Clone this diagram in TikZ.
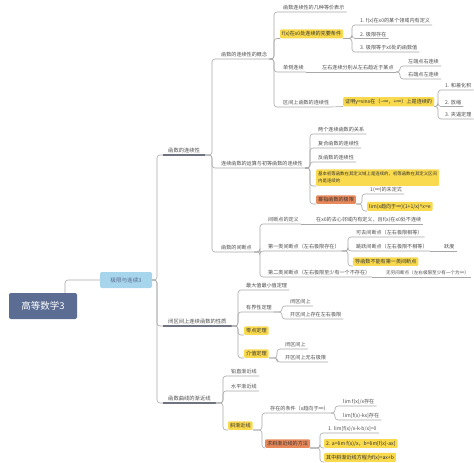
\documentclass[tikz,border=0pt]{standalone}
\usepackage{fontspec}
\setmainfont{Noto Sans CJK SC}
\begin{document}
\begin{tikzpicture}[x=1pt,y=-1pt,
  t/.style={anchor=south west,inner xsep=2pt,inner ysep=1.6pt,text=txtc,font=\fontsize{5.1}{6}\selectfont},
  tone/.style={anchor=south west,inner xsep=5pt,inner ysep=1.8pt,text=txtc,font=\fontsize{5.3}{6}\selectfont},
  yb/.style={anchor=south west,fill=yelc,rounded corners=1pt,inner xsep=2pt,inner ysep=1.8pt,text=boxtc,font=\fontsize{5.1}{6}\selectfont},
  ob/.style={anchor=south west,fill=orgc,rounded corners=1pt,inner xsep=2pt,inner ysep=1.8pt,text=boxtc,font=\fontsize{5.1}{6}\selectfont},
  conn/.style={draw=linec,line width=0.6pt,rounded corners=3pt},
  thickline/.style={draw=thickc,line width=1.8pt},
]
\definecolor{txtc}{HTML}{4D4D4D}
\definecolor{boxtc}{HTML}{333333}
\definecolor{yelc}{HTML}{F9D94E}
\definecolor{orgc}{HTML}{E8895B}
\definecolor{rootc}{HTML}{5C6D93}
\definecolor{bluec}{HTML}{A7D5EC}
\definecolor{linec}{HTML}{A8A8A8}
\definecolor{thickc}{HTML}{6F7480}
\fill[white] (0,0) rectangle (474,463);
\useasboundingbox (0,0) rectangle (474,463);

% root and level 0
\node[fill=rootc,rounded corners=2pt,minimum width=68pt,minimum height=26pt,text=white,font=\fontsize{9.5}{11}\selectfont] (R) at (43,306) {高等数学3};
\node[fill=bluec,rounded corners=2pt,minimum width=52pt,minimum height=16pt,text=rootc,font=\fontsize{5.6}{6}\selectfont] (L) at (126,280) {极限与连续3};
\coordinate (rx) at (65,0);
\coordinate (bS) at (157,0);

% level 1
\node[tone] (A) at (163,155) {函数的连续性};
\node[tone] (B) at (163,326) {闭区间上连续函数的性质};
\node[tone] (C) at (163,403) {函数曲线的渐近线};

% level 2 under A
\coordinate (bA) at (212,0);
\node[t] (A1) at (219,59) {函数的连续性的概念};
\node[t] (A2) at (219,168) {连续函数的运算与初等函数的连续性};
\node[t] (A3) at (219,252) {函数的间断点};

% A1 children
\coordinate (bA1) at (274,0);
\node[t] (A1a) at (281,12) {函数连续性的几种等价表示};
\node[yb] (A1b) at (280,38.5) {f(x)在x0处连续的充要条件};
\node[t] (A1c) at (281,72) {单侧连续};
\node[t] (A1d) at (281,107) {区间上函数的连续性};

\coordinate (bA1b) at (352,0);
\node[t] (A1b1) at (358,25) {1. f(x)在x0的某个领域内有定义};
\node[t] (A1b2) at (358,38.5) {2. 极限存在};
\node[t] (A1b3) at (358,52) {3. 极限等于x0处的函数值};

\node[t] (A1c2) at (320,72) {左右连续分别从左右趋近于某点};
\coordinate (bA1c) at (400,0);
\node[t] (A1c2a) at (406,66) {左端点右连续};
\node[t] (A1c2b) at (406,79) {右端点左连续};

\node[yb] (A1d2) at (343,106.5) {证明y=sinx在（−∞，+∞）上是连续的};
\coordinate (bA1d) at (438,0);
\node[t] (A1d2a) at (443,90) {1. 和差化积};
\node[t] (A1d2b) at (443,106.5) {2. 放缩};
\node[t] (A1d2c) at (443,119) {3. 夹逼定理};

% A2 children
\coordinate (bA2) at (310,0);
\node[t] (A2a) at (316,134) {两个连续函数的关系};
\node[t] (A2b) at (316,148) {复合函数的连续性};
\node[t] (A2c) at (316,162) {反函数的连续性};
\node[yb,align=left,inner ysep=2.6pt,font=\fontsize{4.4}{7.2}\selectfont] (A2d) at (316,186) {基本初等函数在其定义域上是连续的，初等函数在其定义区间\\内是连续的};
\node[ob] (A2e) at (316,204) {幂指函数的极限};
\coordinate (bA2e) at (362,0);
\node[t] (A2e1) at (368,194) {1(∞)的未定式};
\node[yb] (A2e2) at (367,211) {lim(x趋向于∞)(1+1/x)\textasciicircum x=e};

% A3 children
\coordinate (bA3) at (260,0);
\node[t] (A3a) at (266,224) {间断点的定义};
\node[t] (A3a2) at (314,224) {在x0的去心邻域内有定义，且f(x)在x0处不连续};
\node[t] (A3b) at (266,251) {第一类间断点（左右极限存在）};
\coordinate (bA3b) at (348,0);
\node[t] (A3b1) at (354,237) {可去间断点（左右极限相等）};
\node[t] (A3b2) at (354,251) {跳跃间断点（左右极限不相等）};
\node[t] (A3b2x) at (442,251) {跃度};
\node[yb] (A3b3) at (353,266) {导函数不能有第一类间断点};
\node[t] (A3c) at (266,277) {第二类间断点（左右极限至少有一个不存在）};
\node[t,font=\fontsize{4.6}{6}\selectfont] (A3c2) at (384,277) {无穷间断点（左右极限至少有一个为∞）};

% B children
\coordinate (bB) at (238,0);
\node[t] (B1) at (244,290) {最大值最小值定理};
\node[t] (B2) at (244,312) {有界性定理};
\coordinate (bB2) at (282,0);
\node[t] (B2a) at (288,306) {闭区间上};
\node[t] (B2b) at (288,319) {开区间上存在左右极限};
\node[yb] (B3) at (244,335) {零点定理};
\node[yb] (B4) at (244,358) {介值定理};
\coordinate (bB4) at (277,0);
\node[t] (B4a) at (283,349) {闭区间上};
\node[t] (B4b) at (283,362) {开区间上无右极限};

% C children
\coordinate (bC) at (223,0);
\node[t] (C1) at (229,376) {铅直渐近线};
\node[t] (C2) at (229,391) {水平渐近线};
\node[yb] (C3) at (228,430) {斜渐近线};
\coordinate (bC3) at (262,0);
\node[t] (C3a) at (268,413) {存在的条件（x趋向于∞）};
\coordinate (bC3a) at (335,0);
\node[t] (C3a1) at (341,406) {lim f(x)/x存在};
\node[t] (C3a2) at (341,420) {lim[f(x)-kx]存在};
\node[ob] (C3b) at (265,448) {求斜渐近线的方法};
\coordinate (bC3b) at (320,0);
\node[t] (C3b1) at (326,433) {1. lim[f(x)/x-k-b/x]=0};
\node[yb] (C3b2) at (324,448) {2. a=lim f(x)/x，b=lim[f(x)-ax]};
\node[yb] (C3b3) at (324,462) {其中斜渐近线方程为f(x)=ax+b};

% connectors
\draw[conn] (R.north -| rx) |- (L.west);
\foreach \c in {A,B,C} \draw[conn] (L.east) -- (L.east -| bS) |- (\c.south east);
\foreach \c in {A,B,C} \draw[thickline] (\c.south west) -- (\c.south east);

\foreach \c in {A1,A2,A3} \draw[conn] (A.south east) -- (A.south east -| bA) |- (\c.south east);
\foreach \c in {A1a,A1c,A1d} \draw[conn] (A1.south east) -- (A1.south east -| bA1) |- (\c.south east);
\draw[conn] (A1.south east) -- (A1.south east -| bA1) |- (A1b.south west);
\foreach \c in {A1b1,A1b2,A1b3} \draw[conn] (A1b.south east) -- (A1b.south east -| bA1b) |- (\c.south east);
\draw[conn] (A1c.south east) -- (A1c2.south east);
\foreach \c in {A1c2a,A1c2b} \draw[conn] (A1c2.south east) -- (A1c2.south east -| bA1c) |- (\c.south east);
\draw[conn] (A1d.south east) -- (A1d2.south west);
\foreach \c in {A1d2a,A1d2b,A1d2c} \draw[conn] (A1d2.south east) -- (A1d2.south east -| bA1d) |- (\c.south east);

\foreach \c in {A2a,A2b,A2c} \draw[conn] (A2.south east) -- (A2.south east -| bA2) |- (\c.south east);
\foreach \c in {A2d,A2e} \draw[conn] (A2.south east) -- (A2.south east -| bA2) |- (\c.south west);
\draw[conn] (A2e.south east) -- (A2e.south east -| bA2e) |- (A2e1.south east);
\draw[conn] (A2e.south east) -- (A2e.south east -| bA2e) |- (A2e2.south west);

\foreach \c in {A3a,A3b,A3c} \draw[conn] (A3.south east) -- (A3.south east -| bA3) |- (\c.south east);
\draw[conn] (A3a.south east) -- (A3a2.south east);
\foreach \c in {A3b1,A3b2} \draw[conn] (A3b.south east) -- (A3b.south east -| bA3b) |- (\c.south east);
\draw[conn] (A3b.south east) -- (A3b.south east -| bA3b) |- (A3b3.south west);
\draw[conn] (A3b2.south east) -- (A3b2x.south east);
\draw[conn] (A3c.south east) -- (A3c2.south east);

\draw[conn] (B.south east) -- (B.south east -| bB) |- (B1.south east);
\draw[conn] (B.south east) -- (B.south east -| bB) |- (B2.south east);
\foreach \c in {B3,B4} \draw[conn] (B.south east) -- (B.south east -| bB) |- (\c.south west);
\foreach \c in {B2a,B2b} \draw[conn] (B2.south east) -- (B2.south east -| bB2) |- (\c.south east);
\foreach \c in {B4a,B4b} \draw[conn] (B4.south east) -- (B4.south east -| bB4) |- (\c.south east);

\foreach \c in {C1,C2} \draw[conn] (C.south east) -- (C.south east -| bC) |- (\c.south east);
\draw[conn] (C.south east) -- (C.south east -| bC) |- (C3.south west);
\draw[conn] (C3.south east) -- (C3.south east -| bC3) |- (C3a.south east);
\draw[conn] (C3.south east) -- (C3.south east -| bC3) |- (C3b.south west);
\foreach \c in {C3a1,C3a2} \draw[conn] (C3a.south east) -- (C3a.south east -| bC3a) |- (\c.south east);
\draw[conn] (C3b.south east) -- (C3b.south east -| bC3b) |- (C3b1.south east);
\foreach \c in {C3b2,C3b3} \draw[conn] (C3b.south east) -- (C3b.south east -| bC3b) |- (\c.south west);
\end{tikzpicture}
\end{document}
